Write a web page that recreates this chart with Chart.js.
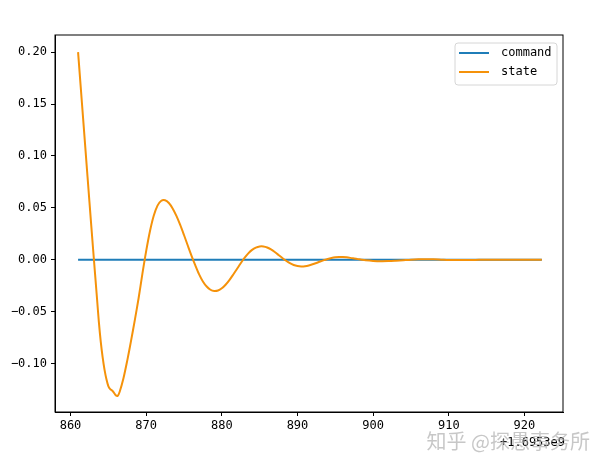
<!DOCTYPE html>
<html>
<head>
<meta charset="utf-8">
<script src="https://cdn.jsdelivr.net/npm/chart.js@4/dist/chart.umd.min.js"></script>
<style>
  html, body { margin: 0; padding: 0; background: #fff; }
  #wrap { width: 600px; height: 465px; }
</style>
</head>
<body>
<div id="wrap"><canvas id="graphic"></canvas></div>
<script>
// datos (eje x con offset +1.6953e9)
const commandX = [861.0, 922.3];
const commandY = [0, 0];

const stateX = [
  861.0, 861.5, 862.0, 862.5, 863.0, 863.5, 863.75, 864.0, 864.25, 864.5,
  864.75, 865.0, 865.25, 865.5, 865.75, 866.0, 866.25, 866.5, 867.0, 867.5,
  868.0, 868.5, 869.0, 869.5, 870.0, 870.5, 871.0, 871.5, 872.0, 872.5,
  873.0, 873.5, 874.0, 874.5, 875.0, 875.5, 876.0, 876.5, 877.0, 877.5,
  878.0, 878.5, 879.0, 879.5, 880.0, 880.5, 881.0, 881.5, 882.0, 882.5,
  883.0, 883.5, 884.0, 884.5, 885.0, 885.5, 886.0, 886.5, 887.0, 887.5,
  888.0, 888.5, 889.0, 889.5, 890.0, 890.5, 891.0, 891.5, 892.0, 892.5,
  893.0, 893.5, 894.0, 894.5, 895.0, 895.5, 896.0, 896.5, 897.0, 897.5,
  898.0, 898.5, 899.0, 900.0, 901.0, 902.0, 903.0, 904.0, 905.0, 906.0,
  907.0, 908.0, 909.0, 910.0, 911.0, 912.0, 913.0, 914.0, 916.0, 918.0,
  920.0, 922.3
];
const stateY = [
  0.200, 0.152, 0.104, 0.056, 0.009, -0.037, -0.060, -0.079, -0.094, -0.106,
  -0.115, -0.1215, -0.1245, -0.1258, -0.128, -0.1305, -0.1308, -0.127, -0.114, -0.097,
  -0.078, -0.058, -0.037, -0.0135, 0.0084, 0.0275, 0.0424, 0.0522, 0.0569, 0.0574,
  0.0547, 0.0495, 0.0423, 0.0336, 0.0239, 0.0138, 0.0039, -0.0054, -0.0140, -0.0208,
  -0.0257, -0.0288, -0.0300, -0.0295, -0.0274, -0.0240, -0.0195, -0.0143, -0.0088, -0.0033,
  0.0018, 0.0062, 0.0096, 0.0118, 0.0129, 0.0129, 0.0119, 0.0100, 0.0075, 0.0047,
  0.0018, -0.0009, -0.0032, -0.0049, -0.0059, -0.0063, -0.0061, -0.0054, -0.0043, -0.0030,
  -0.0016, -0.0003, 0.0009, 0.0018, 0.0024, 0.0027, 0.0027, 0.0024, 0.0019, 0.0013,
  0.0007, 0.0001, -0.0004, -0.0010, -0.0013, -0.0012, -0.0008, -0.0003, 0.0002, 0.0005,
  0.0006, 0.0005, 0.0002, -0.0001, -0.0002, -0.0002, -0.0001, 0.0000, 0.0001, 0.0000,
  0.0000, 0.0000
];

const seriesLabels = ["command", "state"];
const seriesColors = ["#1f7db8", "#f5920a"];
const offsetText = "+1.6953e9";
const watermark = "知乎 @探愚事务所";

const toPoints = (xs, ys) => xs.map((x, i) => ({ x: x, y: ys[i] }));
const monoFont = "'DejaVu Sans Mono', monospace";

// marco, leyenda y textos extra
const extras = {
  id: "extras",
  afterDraw(chart) {
    const { ctx, chartArea } = chart;
    ctx.save();
    ctx.strokeStyle = "#000";
    ctx.lineWidth = 1;
    ctx.strokeRect(chartArea.left, chartArea.top, chartArea.right - chartArea.left, chartArea.bottom - chartArea.top);

    // leyenda
    const bx = chartArea.right - 108, by = chartArea.top + 8, bw = 102, bh = 42;
    ctx.beginPath();
    ctx.roundRect(bx, by, bw, bh, 3);
    ctx.fillStyle = "rgba(255,255,255,0.8)";
    ctx.fill();
    ctx.strokeStyle = "#d6d6d6";
    ctx.stroke();
    ctx.font = "12px " + monoFont;
    ctx.textBaseline = "middle";
    seriesLabels.forEach((lab, i) => {
      const ly = by + 10 + i * 19;
      ctx.beginPath();
      ctx.moveTo(bx + 4, ly);
      ctx.lineTo(bx + 34, ly);
      ctx.strokeStyle = seriesColors[i];
      ctx.lineWidth = 2;
      ctx.stroke();
      ctx.fillStyle = "#000";
      ctx.fillText(lab, bx + 46, ly);
    });

    // offset del eje x
    ctx.textAlign = "right";
    ctx.fillStyle = "#000";
    ctx.fillText(offsetText, chartArea.right + 2, 443);

    // marca de agua
    ctx.font = "20px 'Noto Sans CJK SC'";
    ctx.textAlign = "right";
    ctx.fillStyle = "rgba(175,175,175,0.7)";
    ctx.fillText(watermark, 590, 441);
    ctx.restore();
  }
};

const renderChart = () => {
  const datos = {
    datasets: [
      {
        label: seriesLabels[0],
        data: toPoints(commandX, commandY),
        borderColor: seriesColors[0],
        borderWidth: 2,
        pointRadius: 0,
        order: 1,
      },
      {
        label: seriesLabels[1],
        data: toPoints(stateX, stateY),
        borderColor: seriesColors[1],
        borderWidth: 2,
        pointRadius: 0,
        tension: 0.3,
        order: 0,
      },
    ],
  };

  const opciones = {
    responsive: true,
    maintainAspectRatio: false,
    animation: false,
    layout: { padding: { top: 35, right: 37, left: 0, bottom: 0 } },
    plugins: { legend: { display: false }, tooltip: { enabled: false } },
    scales: {
      x: {
        type: "linear",
        min: 857.95,
        max: 925.1,
        afterFit: (s) => { s.height = 53; },
        border: { display: true, color: "#000" },
        grid: { drawOnChartArea: false, drawTicks: true, tickLength: 4, color: "#000" },
        ticks: {
          stepSize: 10,
          includeBounds: false,
          color: "#000",
          padding: 3,
          maxRotation: 0,
          font: { family: monoFont, size: 12 },
          callback: (v) => String(Math.round(v)),
        },
      },
      y: {
        type: "linear",
        min: -0.1465,
        max: 0.2165,
        afterFit: (s) => { s.width = 55; },
        border: { display: true, color: "#000" },
        grid: { drawOnChartArea: false, drawTicks: true, tickLength: 4, color: "#000" },
        ticks: {
          stepSize: 0.05,
          includeBounds: false,
          color: "#000",
          padding: 4,
          font: { family: monoFont, size: 12 },
          callback: (v) => v.toFixed(2).replace("-", "\u2212"),
        },
      },
    },
  };

  const ctx = document.querySelector("#graphic");
  return new Chart(ctx, { type: "line", data: datos, options: opciones, plugins: [extras] });
};

renderChart();
</script>
</body>
</html>
